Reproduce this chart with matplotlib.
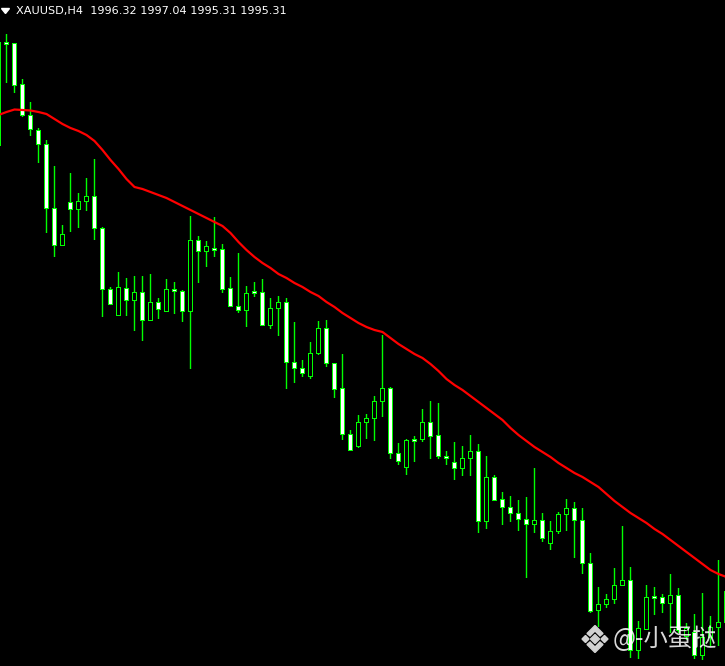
import matplotlib
matplotlib.use('Agg')
import matplotlib.pyplot as plt
import numpy as np
from matplotlib.patches import Polygon

# values, in chart height units (top of picture = 0)
highs = [42, 34, 43, 79, 102, 128, 140, 166, 225, 173, 193, 178, 159, 227, 287, 272, 278, 276, 276, 274, 298, 279, 282,
         290, 216, 236, 241, 217, 244, 277, 253, 286, 282, 279, 298, 296, 298, 322, 360, 342, 321, 320, 363, 354, 430,
         415, 414, 396, 335, 387, 443, 439, 436, 409, 401, 403, 451, 442, 446, 435, 444, 456, 475, 492, 496, 500, 497,
         468, 513, 521, 512, 499, 502, 508, 553, 587, 594, 568, 526, 567, 621, 585, 587, 594, 574, 588, 623, 614, 593,
         616, 560, 570]
tops = [42, 42, 43, 84, 115, 130, 144, 208, 234, 202, 201, 196, 196, 228, 289, 287, 288, 292, 292, 302, 302, 289, 289,
        291, 240, 240, 246, 248, 249, 288, 306, 293, 291, 292, 308, 302, 302, 362, 368, 353, 328, 328, 363, 388, 434,
        422, 418, 401, 388, 388, 453, 440, 439, 422, 422, 435, 456, 462, 458, 451, 451, 477, 477, 499, 507, 513, 519,
        520, 520, 531, 514, 508, 508, 520, 563, 604, 599, 585, 580, 580, 628, 597, 596, 597, 595, 595, 628, 632, 637,
        627, 622, 591]
bottoms = [145, 44, 85, 115, 129, 144, 208, 245, 245, 209, 209, 201, 228, 289, 304, 315, 300, 300, 320, 320, 309, 311,
           291, 311, 311, 251, 251, 250, 289, 306, 310, 310, 293, 325, 325, 308, 362, 368, 373, 376, 353, 363, 389, 434,
           450, 446, 422, 418, 401, 453, 461, 467, 441, 439, 436, 456, 458, 468, 468, 458, 521, 521, 500, 507, 513, 519,
           524, 524, 538, 543, 531, 514, 520, 563, 611, 610, 604, 599, 585, 650, 650, 629, 598, 603, 603, 630, 636, 655,
           655, 637, 627, 622]
lows = [145, 83, 93, 117, 136, 163, 233, 257, 245, 232, 228, 211, 240, 317, 304, 315, 316, 331, 341, 320, 319, 311, 314,
        322, 369, 283, 267, 257, 293, 306, 313, 327, 297, 325, 329, 336, 389, 383, 377, 379, 355, 367, 398, 440, 451,
        448, 439, 441, 417, 459, 465, 475, 462, 442, 459, 459, 465, 480, 476, 476, 533, 529, 501, 525, 522, 531, 578,
        533, 542, 550, 534, 531, 558, 574, 613, 627, 608, 604, 585, 658, 659, 629, 615, 613, 633, 633, 640, 659, 660,
        646, 646, 640]
filled = [1, 1, 1, 1, 1, 1, 1, 1, 0, 1, 0, 0, 1, 1, 1, 0, 1, 0, 1, 0, 1, 0, 1,
          1, 0, 1, 0, 1, 1, 1, 1, 0, 1, 1, 0, 0, 1, 1, 1, 0, 0, 1, 1, 1, 1,
          0, 0, 0, 0, 1, 1, 0, 1, 0, 1, 1, 1, 1, 0, 0, 1, 0, 1, 1, 1, 1, 1,
          0, 1, 0, 0, 0, 1, 1, 1, 0, 0, 0, 0, 1, 0, 0, 1, 1, 0, 1, 0, 1, 0,
          0, 0, 0]
ma = [115, 112, 109.5, 110, 110.5, 112, 114, 119, 124, 128, 131, 135, 141, 150, 160, 169, 179, 187, 189, 192, 195,
      198, 202, 206, 210, 214, 218, 222, 226, 233, 242, 250, 257, 263, 268, 274, 278, 283, 287, 292, 296, 302, 307,
      313, 318, 323, 327, 330, 332, 338, 344, 349, 354, 358, 364, 371, 379, 385, 390, 396, 402, 408, 414, 420, 428,
      435, 441, 447, 452, 457, 463, 468, 473, 477, 482, 487, 494, 501, 507, 513, 518, 523, 529, 534, 540, 546, 552,
      558, 564, 570, 574, 577]
title = 'XAUUSD,H4  1996.32 1997.04 1995.31 1995.31'
watermark = '@-小蛋挞'

fig = plt.figure(figsize=(7.25, 6.66), dpi=100, facecolor='black')
ax = fig.add_axes([0, 0, 1, 1], facecolor='black')

xs = np.arange(-1, len(highs) - 1)
top = np.array(tops)
bot = np.array(bottoms)
inner = ['white' if f else 'black' for f in filled]

lines = ax.vlines(xs, highs, lows, colors='#00ff00', linewidth=1.0, zorder=2)
lines.set_snap(False)
# green outer body with a smaller white or black body inside it
ax.bar(xs, bot - top + 1, bottom=top - 0.5, width=5 / 8, color='#00ff00', zorder=3)
ax.bar(xs, np.maximum(bot - top - 1, 0), bottom=top + 0.5, width=3 / 8, color=inner, zorder=4)
ax.plot(xs, ma, color='#ff0000', linewidth=1.6, zorder=5)

ax.set_xlim(-6.5 / 8, (725 - 6.5) / 8)
ax.set_ylim(666, 0)
ax.axis('off')

# header and watermark, on top in picture pixels
ov = fig.add_axes([0, 0, 1, 1], facecolor='none')
ov.set_xlim(0, 725)
ov.set_ylim(666, 0)
ov.axis('off')

ov.add_patch(Polygon([(1.5, 8.5), (9.5, 8.5), (5.5, 13.5)], color='white'))
ov.text(16, 11, title, color='white', fontsize=8.07, family='DejaVu Sans', va='center', ha='left')

grey = '#d2d2d2'
cx, cy = 595, 639
ov.add_patch(Polygon([(cx, cy - 4.5), (cx + 4.5, cy), (cx, cy + 4.5), (cx - 4.5, cy)], color=grey))
ov.add_patch(Polygon([(cx - 13, cy), (cx - 9.5, cy - 3.5), (cx - 6, cy), (cx - 9.5, cy + 3.5)], color=grey))
ov.add_patch(Polygon([(cx + 13, cy), (cx + 9.5, cy - 3.5), (cx + 6, cy), (cx + 9.5, cy + 3.5)], color=grey))
ov.add_patch(Polygon([(cx, cy - 13.5), (cx + 8, cy - 5.5), (cx + 5, cy - 3), (cx, cy - 8), (cx - 5, cy - 3),
                      (cx - 8, cy - 5.5)], color=grey))
ov.add_patch(Polygon([(cx, cy + 13.5), (cx + 8, cy + 5.5), (cx + 5, cy + 3), (cx, cy + 8), (cx - 5, cy + 3),
                      (cx - 8, cy + 5.5)], color=grey))
ov.text(613, 639, watermark, color='white', alpha=0.85, fontsize=17.5, ha='left', va='center',
        family=['Noto Sans CJK SC', 'DejaVu Sans'])

fig.savefig('out.png', dpi=100, facecolor='black')
